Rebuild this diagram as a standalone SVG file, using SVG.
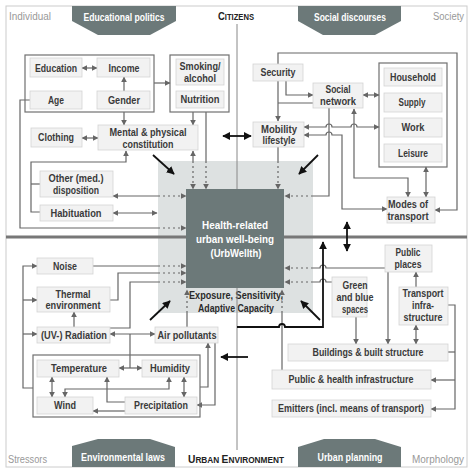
<svg xmlns="http://www.w3.org/2000/svg" width="474" height="474" viewBox="0 0 474 474">
<style>
.t{font-family:"Liberation Sans Narrow","Liberation Sans",Arial,sans-serif;font-weight:bold;font-size:10px;fill:#3a3a3a;text-anchor:middle}
.w{font-family:"Liberation Sans Narrow","Liberation Sans",Arial,sans-serif;font-weight:bold;font-size:10.5px;fill:#fff;text-anchor:middle}
.c{font-family:"Liberation Sans Narrow","Liberation Sans",Arial,sans-serif;font-size:10px;fill:#999}
.h{font-family:"Liberation Sans Narrow","Liberation Sans",Arial,sans-serif;font-weight:bold;fill:#222;text-anchor:middle}
.b{fill:#f2f2f2;stroke:#d4d4d4;stroke-width:0.8}
.g{fill:none;stroke:#707070;stroke-width:1.2}
.tab{fill:#6c7979}
.l{fill:none;stroke:#666;stroke-width:1.2}
.d{fill:none;stroke:#666;stroke-width:1.2;stroke-dasharray:2 3}
.k{fill:none;stroke:#111;stroke-width:1.8}
.e{marker-end:url(#a)}
.s{marker-start:url(#a)}
.ke{marker-end:url(#ak)}
.ks{marker-start:url(#ak)}
</style>
<defs>
<marker id="a" viewBox="0 0 10 10" refX="9" refY="5" markerUnits="userSpaceOnUse" markerWidth="6" markerHeight="6" orient="auto-start-reverse"><path d="M0,0 L10,5 L0,10 z" fill="#666"/></marker>
<marker id="ak" viewBox="0 0 10 10" refX="9" refY="5" markerUnits="userSpaceOnUse" markerWidth="8" markerHeight="8" orient="auto-start-reverse"><path d="M0,0 L10,5 L0,10 z" fill="#111"/></marker>
</defs>
<rect x="0" y="0" width="474" height="474" fill="#fff"/>
<rect x="6" y="6" width="461" height="461" fill="none" stroke="#ccc" stroke-width="1"/>

<g id="tabs">
<polygon class="tab" points="72,6 176,6 176,21 150,35 98,35 72,21"/>
<polygon class="tab" points="298,6 401,6 401,21 375,35 323,35 298,21"/>
<polygon class="tab" points="72,467 72,446 98,439 150,439 175,447 175,467"/>
<polygon class="tab" points="298,467 298,447 324,439 375,439 401,447 401,467"/>
<text class="w" x="124" y="21" textLength="81" lengthAdjust="spacingAndGlyphs">Educational politics</text>
<text class="w" x="350" y="21" textLength="72" lengthAdjust="spacingAndGlyphs">Social discourses</text>
<text class="w" x="123" y="461" textLength="84" lengthAdjust="spacingAndGlyphs">Environmental laws</text>
<text class="w" x="350" y="461" textLength="65" lengthAdjust="spacingAndGlyphs">Urban planning</text>
</g>

<g id="corners">
<text class="c" x="9" y="20" textLength="42" lengthAdjust="spacingAndGlyphs">Individual</text>
<text class="c" x="433" y="20" textLength="31" lengthAdjust="spacingAndGlyphs">Society</text>
<text class="c" x="8" y="463" textLength="39" lengthAdjust="spacingAndGlyphs">Stressors</text>
<text class="c" x="412" y="463" textLength="52" lengthAdjust="spacingAndGlyphs">Morphology</text>
<text class="h" x="236" y="20" textLength="36" lengthAdjust="spacingAndGlyphs"><tspan font-size="10.5">C</tspan><tspan font-size="8.5">ITIZENS</tspan></text>
<text class="h" x="236" y="463" textLength="96" lengthAdjust="spacingAndGlyphs"><tspan font-size="10.5">U</tspan><tspan font-size="8.5">RBAN </tspan><tspan font-size="10.5">E</tspan><tspan font-size="8.5">NVIRONMENT</tspan></text>
</g>

<g id="exposure">
<rect x="158" y="161" width="155" height="152" fill="#dde1e1"/>
<text class="t" x="236" y="299" textLength="94" lengthAdjust="spacingAndGlyphs" style="fill:#2a2a2a">Exposure, Sensitivity,</text>
<text class="t" x="236" y="312" textLength="76" lengthAdjust="spacingAndGlyphs" style="fill:#2a2a2a">Adaptive Capacity</text>
</g>

<g id="connectors">
<path class="l s e" d="M82,68 H97"/>
<path class="l e" d="M124,91 V77"/>
<path class="l e" d="M124,112 V125"/>
<path class="l e" d="M154,83 H170"/>
<path class="l e" d="M193,112 V125"/>
<path class="l s e" d="M82,138 H98"/>
<path class="l" d="M31,100 H20 V228 H158"/>
<path class="d e" d="M158,228 H186"/>
<path class="l s" d="M126,151 V162 H31 V212 H40"/>
<path class="l" d="M31,184 H40"/>
<path class="l s" d="M113,196 H158"/>
<path class="d e" d="M158,196 H186"/>
<path class="l s e" d="M113,213 H157"/>
<path class="l s" d="M193,151 V161"/>
<path class="d e" d="M193,161 V189"/>
<path class="l" d="M206,112 V161"/>
<path class="d e" d="M206,161 V189"/>
<path class="l" d="M278,147 V161"/>
<path class="d e" d="M278,161 V189"/>
<path class="l s e" d="M278,121 V53 H457 V210 H435"/>
<path class="l" d="M278,103 H313"/>
<path class="l e" d="M286,81 V95 H313"/>
<path class="l s e" d="M363,95 H379"/>
<path class="l s e" d="M304,127 H326 A3,3 0 0 1 332,127 H351 A3,3 0 0 1 357,127 H379"/>
<path class="l s e" d="M304,135 H326 A3,3 0 0 1 332,135 H342 V209 H387"/>
<path class="l" d="M329,108 V196 H313"/>
<path class="d e" d="M313,196 H285"/>
<path class="l s e" d="M354,109 V178 H408 V197"/>
<path class="l s e" d="M426,167 V197"/>
<path class="l" d="M93,266 H158"/>
<path class="d e" d="M158,266 H186"/>
<path class="l" d="M110,300 H118 V273 H158"/>
<path class="d e" d="M158,273 H186"/>
<path class="l" d="M110,328 H130 V282 H158"/>
<path class="d e" d="M158,282 H186"/>
<path class="l e" d="M74,327 V312"/>
<path class="l s e" d="M110,334 H155"/>
<path class="l" d="M130,334 V368"/>
<path class="l e" d="M33,388 H23 V266 H37"/>
<path class="l e" d="M23,300 H37"/>
<path class="l e" d="M23,334 H37"/>
<path class="l s e" d="M119,368 H142"/>
<path class="l s e" d="M52,377 V397"/>
<path class="l s e" d="M65,397 V389 H169 V377"/>
<path class="l e" d="M125,402 H107 V377"/>
<path class="l e" d="M125,411 H93"/>
<path class="l e" d="M200,387 H208 V343"/>
<path class="l e" d="M215,343 V405 H197"/>
<path class="l s e" d="M184,377 V397"/>
<path class="l" d="M187,327 V313"/>
<path class="d e" d="M187,313 V290"/>
<path class="l" d="M282,370 V313"/>
<path class="d e" d="M282,313 V290"/>
<path class="l" d="M385,268 H326 A3,3 0 0 0 320,268 H313"/>
<path class="d e" d="M313,268 H285"/>
<path class="l" d="M332,282 H326 A3,3 0 0 0 320,282 H313"/>
<path class="d e" d="M313,282 H285"/>
<path class="l e" d="M388,272 V344"/>
<path class="l e" d="M356,317 V344"/>
<path class="l e" d="M416,287 V272"/>
<path class="l s e" d="M416,325 V344"/>
<path class="l e" d="M448,305 H455 V409 H431"/>
<path class="l e" d="M455,380 H431"/>
<path class="l" d="M448,352 H455"/>
</g>

<g id="axes">
<path d="M237,24 V450" stroke="#888" stroke-width="1" fill="none"/>
<path d="M6,237 H467" stroke="#777" stroke-width="3" fill="none"/>
</g>

<g id="urbwellth">
<rect x="186" y="189" width="98" height="99" fill="#6c7979"/>
<text class="w" x="235" y="229" font-size="11.5" style="font-size:11.5px" textLength="66" lengthAdjust="spacingAndGlyphs">Health-related</text>
<text class="w" x="235" y="243" style="font-size:11.5px" textLength="78" lengthAdjust="spacingAndGlyphs">urban well-being</text>
<text class="w" x="236" y="257" style="font-size:11.5px" textLength="51" lengthAdjust="spacingAndGlyphs">(UrbWellth)</text>
</g>

<g id="individual-group"><rect class="g" x="25" y="55" width="129" height="57"/></g>
<g id="lifestyle-group"><rect class="g" x="170" y="55" width="59" height="57"/></g>
<g id="activity-group"><rect class="g" x="379" y="63" width="68" height="104"/></g>
<g id="climate-group"><rect class="g" x="33" y="355" width="167" height="62"/></g>

<g id="education"><rect class="b" x="30" y="58" width="52" height="19"/><text class="t" x="56" y="72" textLength="42" lengthAdjust="spacingAndGlyphs">Education</text></g>
<g id="income"><rect class="b" x="97" y="58" width="53" height="19"/><text class="t" x="124" y="72" textLength="31" lengthAdjust="spacingAndGlyphs">Income</text></g>
<g id="age"><rect class="b" x="30" y="91" width="52" height="18"/><text class="t" x="56" y="104" textLength="16" lengthAdjust="spacingAndGlyphs">Age</text></g>
<g id="gender"><rect class="b" x="97" y="91" width="53" height="18"/><text class="t" x="124" y="104" textLength="32" lengthAdjust="spacingAndGlyphs">Gender</text></g>
<g id="clothing"><rect class="b" x="31" y="128" width="51" height="19"/><text class="t" x="56" y="141" textLength="36" lengthAdjust="spacingAndGlyphs">Clothing</text></g>
<g id="mental"><rect class="b" x="98" y="125" width="100" height="25"/><text class="t" x="148" y="136" textLength="77" lengthAdjust="spacingAndGlyphs">Mental &amp; physical</text><text class="t" x="148" y="148" textLength="51" lengthAdjust="spacingAndGlyphs">constitution</text></g>
<g id="smoking"><rect class="b" x="176" y="59" width="48" height="26"/><text class="t" x="200" y="70" textLength="41" lengthAdjust="spacingAndGlyphs">Smoking/</text><text class="t" x="200" y="82" textLength="32" lengthAdjust="spacingAndGlyphs">alcohol</text></g>
<g id="nutrition"><rect class="b" x="176" y="91" width="48" height="17"/><text class="t" x="200" y="103" textLength="39" lengthAdjust="spacingAndGlyphs">Nutrition</text></g>
<g id="other"><rect class="b" x="40" y="171" width="73" height="26"/><text class="t" x="76" y="182" textLength="55" lengthAdjust="spacingAndGlyphs">Other (med.)</text><text class="t" x="76" y="194" textLength="46" lengthAdjust="spacingAndGlyphs">disposition</text></g>
<g id="habituation"><rect class="b" x="40" y="205" width="73" height="16"/><text class="t" x="76" y="217" textLength="51" lengthAdjust="spacingAndGlyphs">Habituation</text></g>
<g id="security"><rect class="b" x="253" y="64" width="50" height="17"/><text class="t" x="278" y="76" textLength="35" lengthAdjust="spacingAndGlyphs">Security</text></g>
<g id="social"><rect class="b" x="313" y="83" width="50" height="25"/><text class="t" x="338" y="93" textLength="25" lengthAdjust="spacingAndGlyphs">Social</text><text class="t" x="338" y="105" textLength="36" lengthAdjust="spacingAndGlyphs">network</text></g>
<g id="mobility"><rect class="b" x="253" y="122" width="51" height="25"/><text class="t" x="279" y="133" textLength="36" lengthAdjust="spacingAndGlyphs">Mobility</text><text class="t" x="279" y="144" textLength="33" lengthAdjust="spacingAndGlyphs">lifestyle</text></g>
<g id="household"><rect class="b" x="384" y="68" width="58" height="18"/><text class="t" x="413" y="81" textLength="46" lengthAdjust="spacingAndGlyphs">Household</text></g>
<g id="supply"><rect class="b" x="384" y="93" width="58" height="19"/><text class="t" x="412" y="106" textLength="27" lengthAdjust="spacingAndGlyphs">Supply</text></g>
<g id="work"><rect class="b" x="384" y="118" width="58" height="19"/><text class="t" x="413" y="131" textLength="23" lengthAdjust="spacingAndGlyphs">Work</text></g>
<g id="leisure"><rect class="b" x="384" y="144" width="58" height="18"/><text class="t" x="413" y="157" textLength="30" lengthAdjust="spacingAndGlyphs">Leisure</text></g>
<g id="modes"><rect class="b" x="387" y="197" width="48" height="26"/><text class="t" x="408" y="208" textLength="40" lengthAdjust="spacingAndGlyphs">Modes of</text><text class="t" x="408" y="220" textLength="41" lengthAdjust="spacingAndGlyphs">transport</text></g>
<g id="noise"><rect class="b" x="37" y="258" width="56" height="16"/><text class="t" x="65" y="270" textLength="24" lengthAdjust="spacingAndGlyphs">Noise</text></g>
<g id="thermal"><rect class="b" x="37" y="287" width="73" height="25"/><text class="t" x="73" y="298" textLength="35" lengthAdjust="spacingAndGlyphs">Thermal</text><text class="t" x="73" y="309" textLength="55" lengthAdjust="spacingAndGlyphs">environment</text></g>
<g id="uv"><rect class="b" x="37" y="327" width="73" height="16"/><text class="t" x="74" y="339" textLength="66" lengthAdjust="spacingAndGlyphs">(UV-) Radiation</text></g>
<g id="air"><rect class="b" x="155" y="327" width="63" height="16"/><text class="t" x="187" y="339" textLength="59" lengthAdjust="spacingAndGlyphs">Air pollutants</text></g>
<g id="temperature"><rect class="b" x="37" y="360" width="82" height="17"/><text class="t" x="79" y="372" textLength="56" lengthAdjust="spacingAndGlyphs">Temperature</text></g>
<g id="humidity"><rect class="b" x="142" y="360" width="55" height="17"/><text class="t" x="170" y="372" textLength="40" lengthAdjust="spacingAndGlyphs">Humidity</text></g>
<g id="wind"><rect class="b" x="37" y="397" width="56" height="17"/><text class="t" x="65" y="409" textLength="22" lengthAdjust="spacingAndGlyphs">Wind</text></g>
<g id="precipitation"><rect class="b" x="125" y="397" width="72" height="17"/><text class="t" x="161" y="409" textLength="54" lengthAdjust="spacingAndGlyphs">Precipitation</text></g>
<g id="public-places"><rect class="b" x="385" y="245" width="47" height="27"/><text class="t" x="408" y="256" textLength="25" lengthAdjust="spacingAndGlyphs">Public</text><text class="t" x="408" y="268" textLength="27" lengthAdjust="spacingAndGlyphs">places</text></g>
<g id="green"><rect class="b" x="332" y="277" width="35" height="40"/><text class="t" x="355" y="289" textLength="25" lengthAdjust="spacingAndGlyphs">Green</text><text class="t" x="355" y="301" textLength="37" lengthAdjust="spacingAndGlyphs">and blue</text><text class="t" x="355" y="313" textLength="26" lengthAdjust="spacingAndGlyphs">spaces</text></g>
<g id="transport-infra"><rect class="b" x="399" y="287" width="49" height="38"/><text class="t" x="423" y="297" textLength="41" lengthAdjust="spacingAndGlyphs">Transport</text><text class="t" x="423" y="309" textLength="22" lengthAdjust="spacingAndGlyphs">infra-</text><text class="t" x="423" y="321" textLength="39" lengthAdjust="spacingAndGlyphs">structure</text></g>
<g id="buildings"><rect class="b" x="288" y="344" width="160" height="17"/><text class="t" x="368" y="356" textLength="111" lengthAdjust="spacingAndGlyphs">Buildings &amp; built structure</text></g>
<g id="public-health"><rect class="b" x="272" y="370" width="159" height="19"/><text class="t" x="351" y="383" textLength="125" lengthAdjust="spacingAndGlyphs">Public &amp; health infrastructure</text></g>
<g id="emitters"><rect class="b" x="272" y="400" width="159" height="17"/><text class="t" x="351" y="412" textLength="146" lengthAdjust="spacingAndGlyphs">Emitters (incl. means of transport)</text></g>

<g id="black-arrows">
<path class="k ke" d="M237,327 H279 A3,3 0 0 1 285,327 H323 V242"/>
<path class="k ks ke" d="M223,136 H251"/>
<path class="k ks ke" d="M347,222 V251"/>
<path class="k ke" d="M248,357 H221"/>
<path class="k ke" d="M153,155 L174,174"/>
<path class="k ke" d="M318,155 L299,174"/>
<path class="k ke" d="M150,320 L170,301"/>
<path class="k ke" d="M320,320 L301,301"/>
</g>
</svg>
